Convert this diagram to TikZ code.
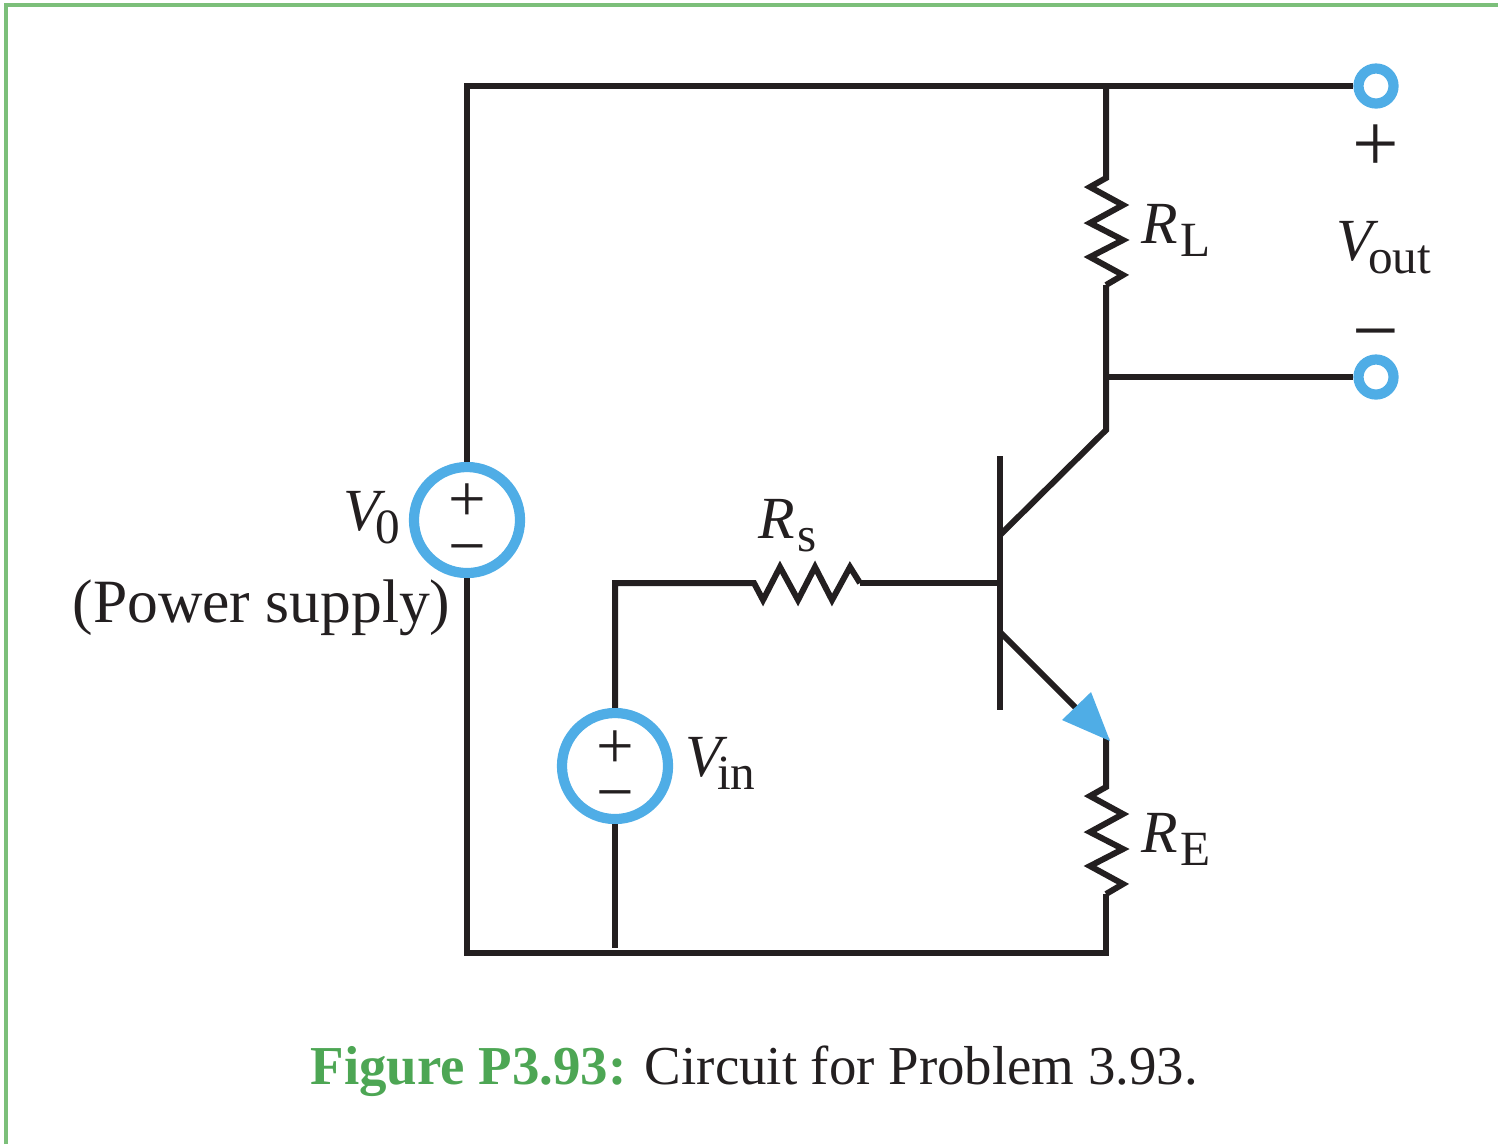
\documentclass[tikz,border=0pt]{standalone}
\usepackage{fontspec}
\setmainfont{Liberation Serif}
\definecolor{wirecol}{HTML}{231F20}
\definecolor{ringcol}{HTML}{4FADE6}
\definecolor{framecol}{HTML}{7CBF7A}
\definecolor{figcol}{HTML}{4DA654}
\newcommand{\varsub}[3][0.03em]{\textit{#2}\kern#1\raisebox{-0.22em}{\fontsize{14}{16}\selectfont #3}}
\newcommand{\zigv}{-- ++(-16,9) -- ++(33,18) -- ++(-33,18) -- ++(33,17) -- ++(-33,17) -- ++(33,18) -- ++(-17,10)}
\newcommand{\zigh}{-- ++(9,17) -- ++(17,-33) -- ++(18,33) -- ++(17,-33) -- ++(17,33) -- ++(18,-33) -- ++(10,16)}
\begin{document}
\begin{tikzpicture}[x=0.01cm,y=-0.01cm,wire/.style={draw=wirecol,line width=1.7pt,miter limit=10},
    source/.style={draw=ringcol,line width=2.9pt,circle,fill=white,inner sep=0pt,minimum size=1.06cm},
    terminal/.style={draw=ringcol,line width=2.9pt,circle,fill=white,inner sep=0pt,minimum size=0.35cm},
    txt/.style={inner sep=0pt,text=wirecol,font=\fontsize{17}{20}\selectfont},
    sign/.style={txt,font=\fontsize{19}{22}\selectfont},
    bigsign/.style={txt,font=\fontsize{23.5}{26}\selectfont}]
    \useasboundingbox (0,0) rectangle (1498,1144);
    \draw[framecol,line width=0.9pt] (6,1144) -- (6,5) -- (1498,5);
    
    \node[source] (vzero) at (467,520) {};
    \node[source] (vin) at (615,766) {};
    \node[terminal] (tplus) at (1376,86) {};
    \node[terminal] (tminus) at (1376,377) {};
    
    \coordinate (tl) at (467,86);
    \coordinate (bl) at (467,953);
    \coordinate (br) at (1106,953);
    \coordinate (top) at (1106,86);
    \coordinate (rlup) at (1106,178);
    \coordinate (rldown) at (1106,285);
    \coordinate (out) at (1106,377);
    \coordinate (cbend) at (1106,430);
    \coordinate (col) at (1000,535);
    \coordinate (base) at (1000,583);
    \coordinate (emit) at (1000,632);
    \coordinate (barup) at (1000,456);
    \coordinate (bardown) at (1000,710);
    \coordinate (etip) at (1110,741);
    \coordinate (ewire) at (1106,738);
    \coordinate (eend) at (1085,717);
    \coordinate (reup) at (1106,787);
    \coordinate (redown) at (1106,894);
    \coordinate (rsleft) at (754,583);
    \coordinate (rsright) at (860,583);
    \coordinate (vinup) at (615,583);
    \coordinate (vinbot) at (615,948);
    
    \draw[wire] (vzero) -- (tl) -- (tplus);
    \draw[wire] (vzero) -- (bl) -- (br) -- (redown);
    \draw[wire] (top) -- (rlup) \zigv;
    \draw[wire] (rldown) -- (cbend) -- (col);
    \draw[wire] (out) -- (tminus);
    \draw[wire] (vin) -- (vinup) -- (rsleft) \zigh;
    \draw[wire] (rsright) -- (base);
    \draw[wire] (vin) -- (vinbot);
    \draw[wire] (barup) -- (bardown);
    \draw[wire] (emit) -- (eend);
    \draw[wire] (ewire) -- (reup) \zigv;
    \fill[ringcol] (etip) -- (1062,720) -- (1091,692) -- cycle;
    
    \node[sign] (zplus) at (467,503) {+};
    \node[sign] (zminus) at (467,557) {−};
    \node[sign] (iplus) at (615,750) {+};
    \node[sign] (iminus) at (615,803) {−};
    \node[bigsign] (oplus) at (1376,148) {+};
    \node[bigsign] (ominus) at (1376,344) {−};
    \node[txt,anchor=base west] (rl) at (1141,243) {\varsub{R}{L}};
    \node[txt,anchor=base west] (re) at (1141,852) {\varsub{R}{E}};
    \node[txt,anchor=base west] (rs) at (758,538) {\varsub{R}{s}};
    \node[txt,anchor=base west] (vo) at (1336,260) {\varsub[-0.18em]{V}{out}};
    \node[txt,anchor=base west] (vi) at (685,776) {\varsub[-0.18em]{V}{in}};
    \node[txt,anchor=base west] (vz) at (343,530) {\varsub[-0.18em]{V}{0}};
    \node[txt,anchor=base west,font=\fontsize{17.5}{20}\selectfont] (ps) at (72,622) {(Power supply)};
    \node[txt,anchor=base west,font=\fontsize{15.6}{18}\selectfont] (cap) at (310,1084) {\textcolor{figcol}{\textbf{Figure P3.93:}} Circuit for Problem 3.93.};
\end{tikzpicture}
\end{document}
